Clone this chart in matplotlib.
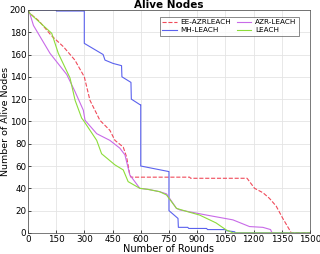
import matplotlib
matplotlib.use("Agg")
import matplotlib.pyplot as plt

# EE-AZRLEACH (red dashed)
ee_x = [0, 10, 60, 125, 189, 250, 300, 330, 383, 436, 463, 507, 525, 542, 548, 860, 865, 1165, 1205, 1250, 1284, 1320, 1355, 1390, 1400, 1500]
ee_y = [200, 197, 190, 177, 167, 155, 140, 119, 101, 92, 83, 77, 68, 52, 50, 50, 49, 49, 40, 36, 31, 24, 13, 3, 0, 0]

# AZR-LEACH (purple)
azr_x = [0, 10, 30, 118, 207, 250, 295, 304, 366, 436, 489, 516, 542, 595, 640, 700, 737, 790, 808, 950, 1090, 1178, 1249, 1290, 1295, 1300]
azr_y = [200, 197, 186, 161, 142, 127, 110, 101, 89, 83, 76, 70, 52, 40, 39, 37, 35, 22, 20.6, 16, 11.7, 5.7, 5, 3, 1, 0]

# MH-LEACH (blue)
mh_x = [0, 150, 152, 300, 300, 400, 410, 453, 498, 500, 548, 550, 596, 600, 600, 750, 750, 798, 800, 850, 855, 950, 955, 1050, 1055, 1100, 1100, 1500]
mh_y = [200, 200, 199, 199, 170, 160, 155, 152, 150, 140, 135, 120, 115, 115, 60, 55, 20, 13, 5, 5, 4, 4, 3, 3, 2, 1, 0, 0]

# LEACH (green)
leach_x = [0, 10, 127, 162, 224, 251, 286, 295, 366, 392, 463, 507, 533, 595, 640, 700, 737, 790, 850, 913, 1000, 1054, 1090, 1500]
leach_y = [200, 197, 179, 161, 139, 119, 103, 101, 83, 71, 61, 56.5, 46, 40, 39, 37, 34, 22, 19, 16, 9, 2.7, 0, 0]

fig = plt.figure(figsize=(3.2, 2.54), dpi=100)
ax = fig.add_axes([0.087, 0.083, 0.882, 0.878])

ax.plot(ee_x, ee_y, color="#f04a5a", linestyle="--", linewidth=0.8, label="EE-AZRLEACH")
ax.plot(mh_x, mh_y, color="#5b62ee", linewidth=0.8, label="MH-LEACH")
ax.plot(azr_x, azr_y, color="#c86ae8", linewidth=0.8, label="AZR-LEACH")
ax.plot(leach_x, leach_y, color="#8ddc3a", linewidth=0.8, label="LEACH")

ax.set_xlim(0, 1500)
ax.set_ylim(0, 200)
ax.set_xticks(range(0, 1501, 150))
ax.set_yticks(range(0, 201, 20))
ax.grid(True, color="#e4e4e4", linewidth=0.6)
ax.tick_params(axis="both", labelsize=6.3, direction="in", length=2, width=0.5, pad=1.5)
ax.tick_params(axis="y", pad=1)
for s in ax.spines.values():
    s.set_linewidth(0.5)
    s.set_color("#444444")

ax.set_title("Alive Nodes", fontsize=7.5, fontweight="bold", pad=1.5)
ax.set_xlabel("Number of Rounds", fontsize=7, labelpad=0)
ax.set_ylabel("Number of Alive Nodes", fontsize=6.8, labelpad=0)

leg = ax.legend(loc="upper right", ncol=2, fontsize=5.2, frameon=True, fancybox=False,
                edgecolor="#333333", handlelength=2.0, columnspacing=0.8,
                borderpad=0.35, labelspacing=0.25, handletextpad=0.5,
                bbox_to_anchor=(0.973, 0.985))
leg.get_frame().set_linewidth(0.5)

fig.savefig("out.png", dpi=100)
